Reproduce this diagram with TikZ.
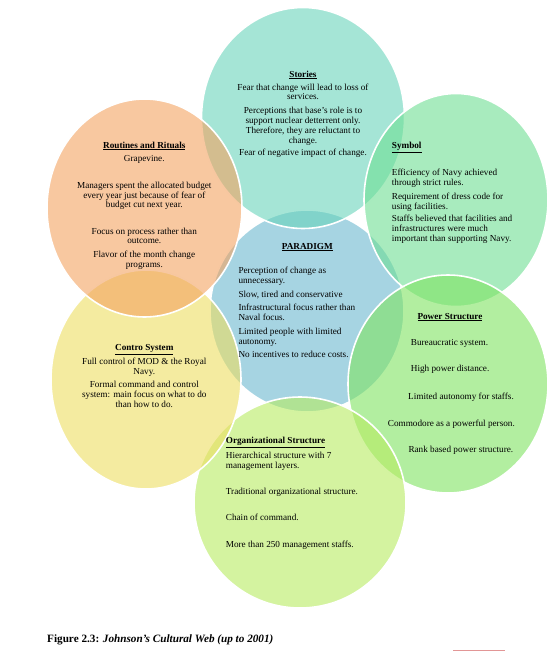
\documentclass[tikz,border=0pt]{standalone}
\usepackage{fontspec}
\setmainfont{Liberation Serif}

\definecolor{parac}{RGB}{107,183,207}
\definecolor{storc}{RGB}{105,212,187}
\definecolor{symbc}{RGB}{110,222,147}
\definecolor{powc}{RGB}{127,227,97}
\definecolor{orgc}{RGB}{183,235,97}
\definecolor{ctrlc}{RGB}{237,222,97}
\definecolor{routc}{RGB}{243,163,97}
\definecolor{pinkline}{RGB}{226,150,150}

\newcommand{\cwhead}[1]{\textbf{\underline{#1}}}

\begin{document}
\begin{tikzpicture}[
	x=1pt, y=-1pt,
	bubble/.style={ draw=white, line width=1.6pt, fill opacity=0.6 },
	txtc/.style={ inner sep=0pt, align=center, anchor=base, font=\fontsize{9.2}{9.7}\selectfont },
	txtl/.style={ inner sep=0pt, align=left, anchor=base west, font=\fontsize{9.2}{9.7}\selectfont }
]
\useasboundingbox (0,0) rectangle (549,651);

% circles, centre first
\path[bubble, fill=parac] (307,311) ellipse [x radius=97pt, y radius=101pt];
\path[bubble, fill=storc] (303,118) ellipse [x radius=101.5pt, y radius=110.5pt];
\path[bubble, fill=symbc] (456,200) ellipse [x radius=92pt, y radius=106.5pt];
\path[bubble, fill=powc] (448,384) ellipse [x radius=100pt, y radius=109pt];
\path[bubble, fill=orgc] (300,502.5) ellipse [x radius=106pt, y radius=105.5pt];
\path[bubble, fill=ctrlc] (146,379.5) ellipse [x radius=95pt, y radius=109.5pt];
\path[bubble, fill=routc] (144.5,208) ellipse [x radius=97.5pt, y radius=109pt];

% texts, anchored at the baseline of their last line
\node at (303,155.7) (stories) [txtc] {\cwhead{Stories}\\[3.3pt]
	Fear that change will lead to loss of\\ services.\\[4.3pt]
	Perceptions that base's role is to\\ support nuclear detterrent only.\\
	Therefore, they are reluctant to\\ change.\\[3pt]
	Fear of negative impact of change.};

\node at (144.3,267) (routines) [txtc] {\cwhead{Routines and Rituals}\\[4pt]
	Grapevine.\\[17pt]
	Managers spent the allocated budget\\ every year just because of fear of\\ budget cut next year.\\[16.6pt]
	Focus on process rather than\\ outcome.\\[3.7pt]
	Flavor of the month change\\ programs.};

\node at (391.7,241) (symbol) [txtl] {\cwhead{Symbol}\\[16pt]
	Efficiency of Navy achieved\\ through strict rules.\\[4.3pt]
	Requirement of dress code for\\ using facilities.\\[2.6pt]
	Staffs believed that facilities and\\ infrastructures were much\\ important than supporting Navy.};

\node at (307.3,249) (paradigm) [txtc] {\cwhead{PARADIGM}};
\node at (238.3,357.7) (paratext) [txtl] {Perception of change as\\ unnecessary.\\[4.6pt]
	Slow, tired and conservative\\[3.7pt]
	Infrastructural focus rather than\\ Naval focus.\\[4.3pt]
	Limited people with limited\\ autonomy.\\[3.7pt]
	No incentives to reduce costs.};

\node at (450,319) (power) [txtc] {\cwhead{Power Structure}};
\node at (410.7,345) (pow1) [txtl] {Bureaucratic system.};
\node at (410.7,371.7) (pow2) [txtl] {High power distance.};
\node at (408,399) (pow3) [txtl] {Limited autonomy for staffs.};
\node at (387.7,426) (pow4) [txtl] {Commodore as a powerful person.};
\node at (408.3,452.3) (pow5) [txtl] {Rank based power structure.};

\node at (144.3,407) (control) [txtc] {\cwhead{Contro System}\\[3pt]
	Full control of MOD \& the Royal\\ Navy.\\[3.3pt]
	Formal command and control\\ system: main focus on what to do\\ than how to do.};

\node at (225.7,547.7) (orgstruct) [txtl] {\cwhead{Organizational Structure}\\[3.6pt]
	Hierarchical structure with 7\\ management layers.\\[16.3pt]
	Traditional organizational structure.\\[17pt]
	Chain of command.\\[17.3pt]
	More than 250 management staffs.};

\node at (47,642) (caption) [anchor=base west, inner sep=0pt, font=\fontsize{11.2}{13}\selectfont]
	{\textbf{Figure 2.3:} \textbf{\textit{Johnson’s Cultural Web (up to 2001)}}};

\draw[pinkline, line width=1pt] (453,650.3) -- (505,650.3);

\end{tikzpicture}
\end{document}
